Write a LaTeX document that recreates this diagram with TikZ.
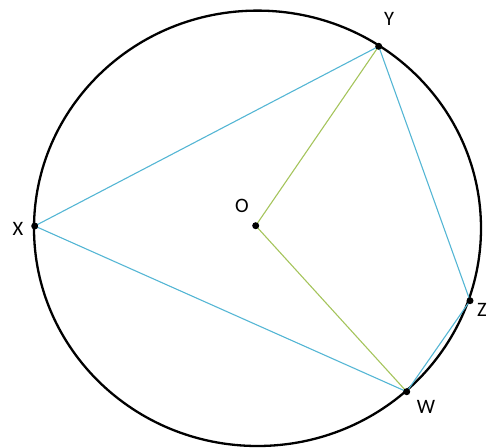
\documentclass[tikz,border=0pt]{standalone}
\usepackage{fontspec}
\setmainfont{Carlito}
\usepackage{tikz}
\definecolor{chordblue}{RGB}{84,182,212}
\definecolor{radgreen}{RGB}{165,196,92}
\tikzset{
dot/.style={circle, fill=black, inner sep=0pt, minimum size=7pt},
lbl/.style={font=\fontsize{20.5}{24}\selectfont}}

\begin{document}
\begin{tikzpicture}[x=1pt, y=-1pt]

                \useasboundingbox (0,0) rectangle (500,447);

                %circle, slightly wider than tall as in the picture
                \draw[line width=2.3pt] (257.5,228.3) ellipse [x radius=223.5, y radius=217.7];

                \coordinate (O) at (255.7,225.7);
                \coordinate (X) at (34.7,226);
                \coordinate (Y) at (378.7,46.3);
                \coordinate (Z) at (470,300.7);
                \coordinate (W) at (406.7,391.7);

                \draw[chordblue, line width=1.1pt] (X) -- (Y) -- (Z) -- (W) -- (X);
                \draw[radgreen, line width=1.1pt] (Y) -- (O) -- (W);

                \foreach \p in {O,X,Y,Z,W}
                    \node[dot] at (\p) {};

                \node[lbl] (lO) at (242,206) {O};
                \node[lbl] (lX) at (18,229) {X};
                \node[lbl] (lY) at (389,19) {Y};
                \node[lbl] (lZ) at (482,310) {Z};
                \node[lbl] (lW) at (426,407) {W};

\end{tikzpicture}
\end{document}
